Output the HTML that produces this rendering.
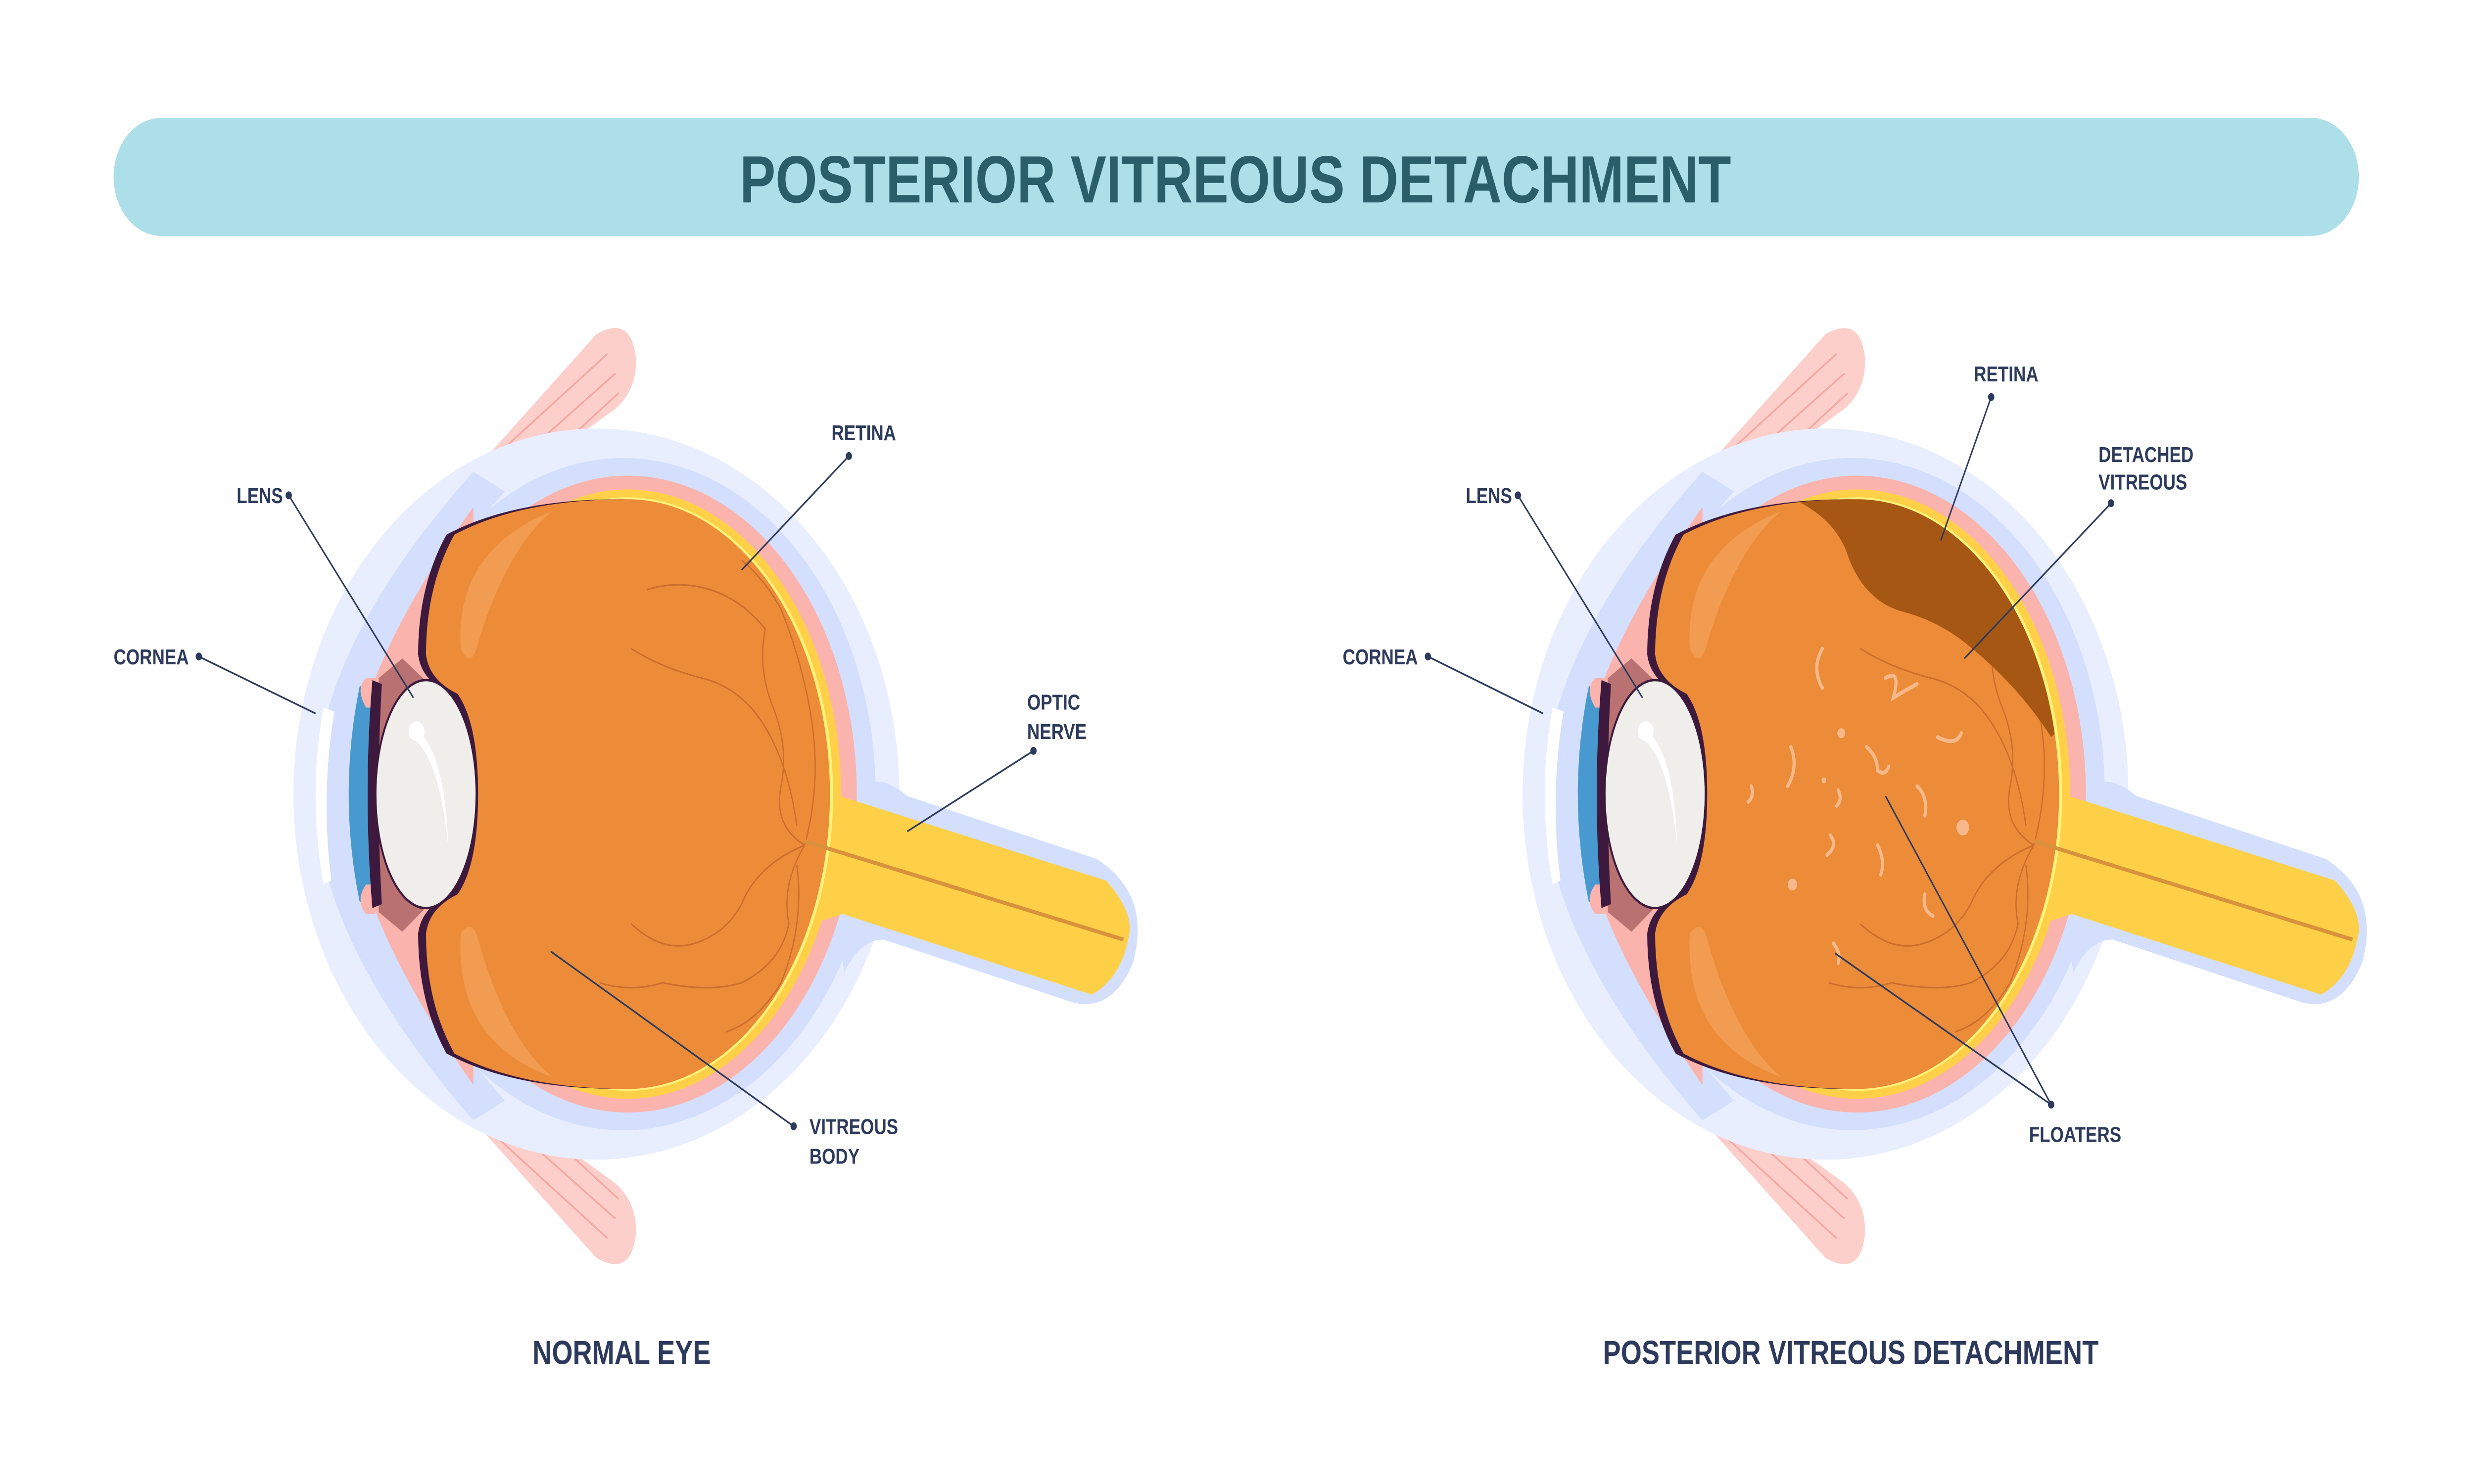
<!DOCTYPE html>
<html><head><meta charset="utf-8"><style>
html,body{margin:0;padding:0;background:#fff;width:100%;height:100%;overflow:hidden}
svg{display:block;width:100vw;height:100vh;position:fixed;left:0;top:0}
text{font-family:"Liberation Sans",sans-serif;font-weight:bold;fill:#2d3a5c}
</style></head><body>
<svg viewBox="0 0 1568 755" preserveAspectRatio="none" xmlns="http://www.w3.org/2000/svg">
<defs>
<path id="og" d="M288 272 Q330 254 398 254 A128 150 0 0 1 398 554 Q330 554 288 536 Q270 510 270 475 Q272 462 290 455 Q303 440 303 404 Q303 368 290 353 Q272 346 270 333 Q270 298 288 272 Z"/>
<g id="eye">
  <path d="M300 240 L378 170 Q400 160 403 182 Q404 198 390 208 L318 250 Z" fill="#fccfcb"/>
  <path d="M310 235 L385 180 M320 240 L390 190 M330 246 L392 200" stroke="#f5a9a4" stroke-width="1" fill="none"/>
  <path d="M300 570 L378 640 Q400 650 403 628 Q404 612 390 602 L318 560 Z" fill="#fccfcb"/>
  <path d="M310 575 L385 630 M320 570 L390 620 M330 564 L392 610" stroke="#f5a9a4" stroke-width="1" fill="none"/>
  <ellipse cx="378" cy="404" rx="192" ry="186" fill="#e8eefd"/>
  <path d="M520 395 L560 398 Q568 400 575 405 L695 437 Q730 455 718 490 Q705 515 680 510 L560 478 Q545 478 535 495 Z" fill="#d3dffc"/>
  <ellipse cx="395" cy="404" rx="160" ry="171" fill="#d3dffc"/>
  <path d="M200 404 Q200 330 300 240 L320 250 Q230 330 230 404 Q230 478 320 560 L300 570 Q200 478 200 404Z" fill="#d3dffc"/>
  <ellipse cx="398" cy="404" rx="145" ry="162" fill="#fbb3ad"/>
  <path d="M222 404 Q222 345 300 258 L300 552 Q222 463 222 404Z" fill="#fbb3ad"/>
  <path d="M520 402 L548 409 L701 448 Q720 465 715 478 Q710 498 692 506 L534 465 L515 470 Z" fill="#fdd047"/>
  <ellipse cx="398" cy="404" rx="135" ry="155" fill="#fdd047"/>
  <ellipse cx="398" cy="404" rx="130" ry="151" fill="#fff27a"/>
  <path d="M205 360 Q195 404 205 450 L210 448 Q203 404 212 362Z" fill="#fff"/>
  <path d="M228 349 Q214 404 228 459 L238 455 L238 352Z" fill="#4799cf"/>
  <path d="M240 345 L255 335 L272 348 L272 460 L255 474 L240 464Z" fill="#b97171"/>
  <path d="M232 345 Q225 350 232 360 L238 360 L238 345Z M232 450 Q225 458 232 465 L238 465 L238 450Z" fill="#fbb3ad"/>
  <path d="M236 346 Q230 404 236 462 L242 460 Q238 404 242 348Z" fill="#3d1a3d"/>
  <use href="#og" transform="translate(-5,0)" fill="#3d1a3d"/>
  <use href="#og" fill="#ec8b38"/>
  <path d="M292 330 Q288 280 350 260 Q320 280 302 330 Q298 340 292 330Z" fill="#f2a056" opacity=".8"/>
  <path d="M292 475 Q288 530 350 548 Q320 528 302 475 Q298 468 292 475Z" fill="#f2a056" opacity=".8"/>
  <ellipse cx="270" cy="404" rx="32" ry="58" fill="#efeeea" stroke="#3d1a3d" stroke-width="1.2"/>
  <path d="M262 370 Q282 380 284 430 Q278 385 262 376Z" fill="#fff"/>
  <circle cx="264" cy="372" r="5" fill="#fff"/>
  <g fill="none" stroke="#c4672a" stroke-width="0.8" opacity=".8">
    <path d="M510 430 Q490 420 495 400 Q500 380 490 360 Q480 340 485 320 Q470 305 450 300 Q430 295 410 300"/>
    <path d="M510 430 Q495 450 500 470 Q495 490 470 500 Q450 505 420 500 Q400 505 380 500"/>
    <path d="M510 430 Q480 440 470 460 Q460 475 440 480 Q420 485 400 470"/>
    <path d="M505 420 Q500 390 485 370 Q470 350 445 345 Q420 340 400 330"/>
    <path d="M510 430 Q520 400 515 370 Q510 340 495 310 Q485 295 470 285"/>
    <path d="M505 440 Q510 470 495 500 Q480 520 460 525"/>
  </g>
  <path d="M510 428 L712 478" stroke="#d9913c" stroke-width="2" fill="none"/>
</g>
<clipPath id="cp"><use href="#og" transform="translate(779,0)"/></clipPath>
</defs>

<rect x="72" y="60" width="1423" height="60" rx="30" fill="#acdfe8"/>
<text x="783" y="103" text-anchor="middle" style="font-size:34px;fill:#2a5f6a">POSTERIOR VITREOUS DETACHMENT</text>

<use href="#eye"/>
<use href="#eye" transform="translate(779,0)"/>

<path clip-path="url(#cp)" d="M1125 250 Q1160 260 1170 280 Q1180 305 1205 311 Q1230 316 1250 330 Q1280 350 1300 375 L1320 360 L1320 230 Z" fill="#a65714"/>
<g fill="none" stroke="#f7b98a" stroke-width="2" stroke-linecap="round">
<path d="M1155 330 Q1148 340 1155 350"/><path d="M1195 345 Q1205 340 1200 355 Q1210 350 1215 348"/>
<path d="M1135 380 Q1140 390 1133 400"/><path d="M1183 380 Q1190 385 1190 392 Q1195 395 1197 390"/>
<path d="M1215 400 Q1222 405 1220 415"/><path d="M1228 375 Q1240 380 1243 373"/>
<path d="M1160 425 Q1165 430 1158 435"/><path d="M1190 430 Q1195 438 1192 445"/>
<path d="M1220 455 Q1218 463 1225 466"/><path d="M1162 480 Q1167 485 1165 490"/>
<path d="M1110 400 Q1112 405 1108 408"/><path d="M1165 402 Q1168 407 1164 410"/>
</g>
<g fill="#f7b98a"><circle cx="1167" cy="373" r="2.5"/><circle cx="1244" cy="421" r="4"/><circle cx="1136" cy="450" r="3"/><circle cx="1156" cy="397" r="1.5"/></g>

<g stroke="#2d3a5c" stroke-width="0.9" fill="none">
<path d="M183 252 L262 355"/><path d="M126 334 L200 363"/><path d="M538 232 L470 290"/>
<path d="M655 382 L575 423"/><path d="M503 573 L349 484"/>
<path d="M962 252 L1041 355"/><path d="M905 334 L978 363"/><path d="M1262 202 L1230 275"/>
<path d="M1338 256 L1245 335"/><path d="M1300 562 L1195 405"/><path d="M1300 562 L1163 485"/>
</g>
<g fill="#2d3a5c">
<circle cx="183" cy="252" r="2"/><circle cx="126" cy="334" r="2"/><circle cx="538" cy="232" r="2"/><circle cx="655" cy="382" r="2"/><circle cx="503" cy="573" r="2"/>
<circle cx="962" cy="252" r="2"/><circle cx="905" cy="334" r="2"/><circle cx="1262" cy="202" r="2"/><circle cx="1338" cy="256" r="2"/><circle cx="1300" cy="562" r="2"/>
</g>
<g style="font-size:11px">
<text x="150" y="256">LENS</text><text x="72" y="338">CORNEA</text><text x="527" y="224">RETINA</text>
<text x="651" y="361">OPTIC</text><text x="651" y="376">NERVE</text>
<text x="513" y="577">VITREOUS</text><text x="513" y="592">BODY</text>
<text x="929" y="256">LENS</text><text x="851" y="338">CORNEA</text><text x="1251" y="194">RETINA</text>
<text x="1330" y="235">DETACHED</text><text x="1330" y="249">VITREOUS</text>
<text x="1286" y="581">FLOATERS</text>
</g>
<g style="font-size:17px">
<text x="394" y="694" text-anchor="middle">NORMAL EYE</text>
<text x="1173" y="694" text-anchor="middle">POSTERIOR VITREOUS DETACHMENT</text>
</g>
</svg>
</body></html>
